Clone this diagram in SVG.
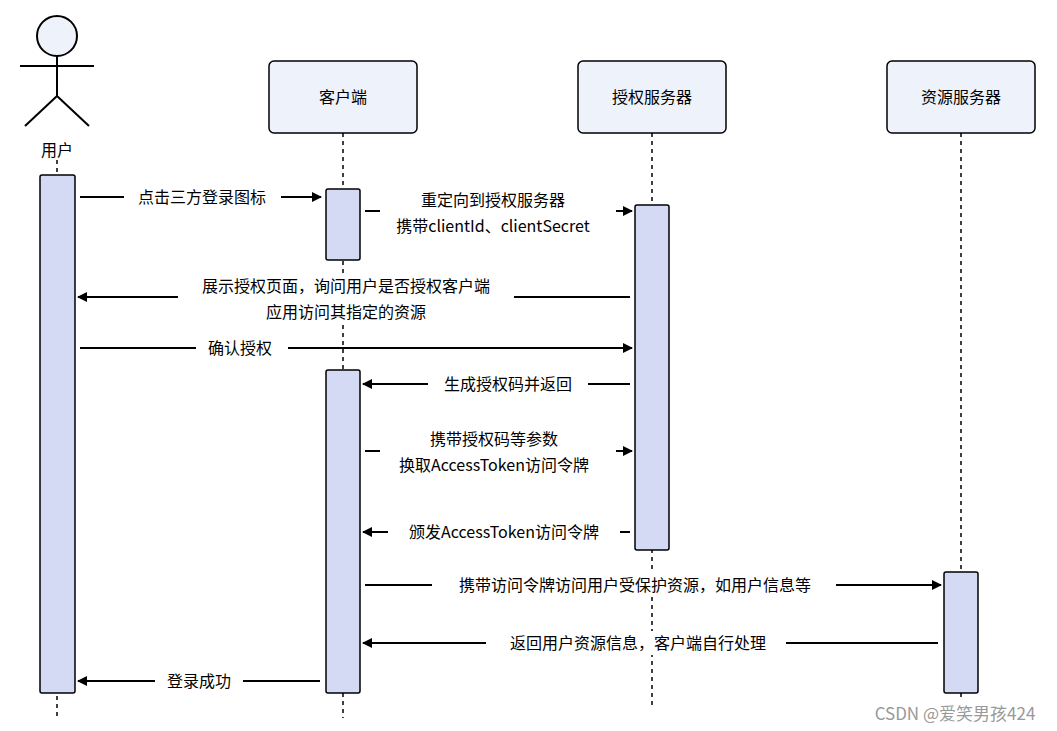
<svg xmlns="http://www.w3.org/2000/svg" width="1057" height="731" viewBox="0 0 1057 731">
<style>
.box{fill:#eef2fb;stroke:#000;stroke-width:1.5}
.act{fill:#d5daf4;stroke:#000;stroke-width:1.5}
.life{stroke:#000;stroke-width:1.5;stroke-dasharray:4 4;fill:none}
.msg{stroke:#000;stroke-width:2;fill:none;marker-end:url(#ah)}
.lbg{fill:#fff}
text{font-family:"Noto Sans CJK SC","Noto Sans",sans-serif;font-size:16px;fill:#000;text-anchor:middle}
</style>
<defs><marker id="ah" viewBox="0 0 10 10" refX="9" refY="5" markerWidth="10" markerHeight="10" markerUnits="userSpaceOnUse" orient="auto"><path d="M0,0 L10,5 L0,10 z" fill="#000"/></marker></defs>
<rect width="1057" height="731" fill="#fff"/>
<g id="lifelines">
<line class="life" x1="57" y1="160" x2="57" y2="716"/>
<line class="life" x1="343" y1="133" x2="343" y2="718"/>
<line class="life" x1="652" y1="133" x2="652" y2="706"/>
<line class="life" x1="961" y1="133" x2="961" y2="700"/>
</g>
<g id="user">
<circle cx="57" cy="36" r="20" fill="#eef2fb" stroke="#000" stroke-width="2"/>
<path d="M57,56 V96 M20,66 H94 M57,96 L25,126 M57,96 L89,126" stroke="#000" stroke-width="2" fill="none"/>
<text x="57" y="156">用户</text>
</g>
<g id="client"><rect class="box" x="269" y="61" width="148" height="72" rx="5"/><text x="343" y="103">客户端</text></g>
<g id="auth"><rect class="box" x="578" y="61" width="148" height="72" rx="5"/><text x="652" y="103">授权服务器</text></g>
<g id="res"><rect class="box" x="887" y="61" width="148" height="72" rx="5"/><text x="961" y="103">资源服务器</text></g>
<g id="activations">
<rect class="act" x="40" y="175" width="35" height="518" rx="2"/>
<rect class="act" x="326" y="189" width="34" height="71" rx="2"/>
<rect class="act" x="326" y="370" width="34" height="323" rx="2"/>
<rect class="act" x="635" y="205" width="34" height="345" rx="2"/>
<rect class="act" x="944" y="572" width="34" height="121" rx="2"/>
</g>
<g id="connectors">
<line class="msg" x1="80" y1="197" x2="321" y2="197"/>
<rect class="lbg" x="124" y="186" width="157" height="24"/><text x="202" y="203">点击三方登录图标</text>
<line class="msg" x1="365" y1="211" x2="632" y2="211"/>
<rect class="lbg" x="380" y="188" width="236" height="50"/><text x="493" y="206">重定向到授权服务器</text><text x="493" y="232">携带clientId、clientSecret</text>
<line class="msg" x1="630" y1="297" x2="78" y2="297"/>
<rect class="lbg" x="178" y="274" width="336" height="50"/><text x="346" y="292">展示授权页面，询问用户是否授权客户端</text><text x="346" y="318">应用访问其指定的资源</text>
<line class="msg" x1="80" y1="348" x2="632" y2="348"/>
<rect class="lbg" x="196" y="336" width="92" height="24"/><text x="240" y="354">确认授权</text>
<line class="msg" x1="630" y1="384" x2="363" y2="384"/>
<rect class="lbg" x="428" y="372" width="160" height="24"/><text x="508" y="390">生成授权码并返回</text>
<line class="msg" x1="365" y1="451" x2="632" y2="451"/>
<rect class="lbg" x="380" y="428" width="236" height="50"/><text x="494" y="445">携带授权码等参数</text><text x="494" y="471">换取AccessToken访问令牌</text>
<line class="msg" x1="630" y1="532" x2="363" y2="532"/>
<rect class="lbg" x="388" y="520" width="232" height="24"/><text x="504" y="538">颁发AccessToken访问令牌</text>
<line class="msg" x1="365" y1="585" x2="941" y2="585"/>
<rect class="lbg" x="432" y="573" width="404" height="24"/><text x="635" y="591">携带访问令牌访问用户受保护资源，如用户信息等</text>
<line class="msg" x1="938" y1="643" x2="363" y2="643"/>
<rect class="lbg" x="486" y="631" width="300" height="24"/><text x="638" y="649">返回用户资源信息，客户端自行处理</text>
<line class="msg" x1="320" y1="681" x2="78" y2="681"/>
<rect class="lbg" x="155" y="669" width="88" height="24"/><text x="199" y="687">登录成功</text>
</g>
<text x="955" y="720" style="fill:#999;font-size:17px">CSDN @爱笑男孩424</text>
</svg>
